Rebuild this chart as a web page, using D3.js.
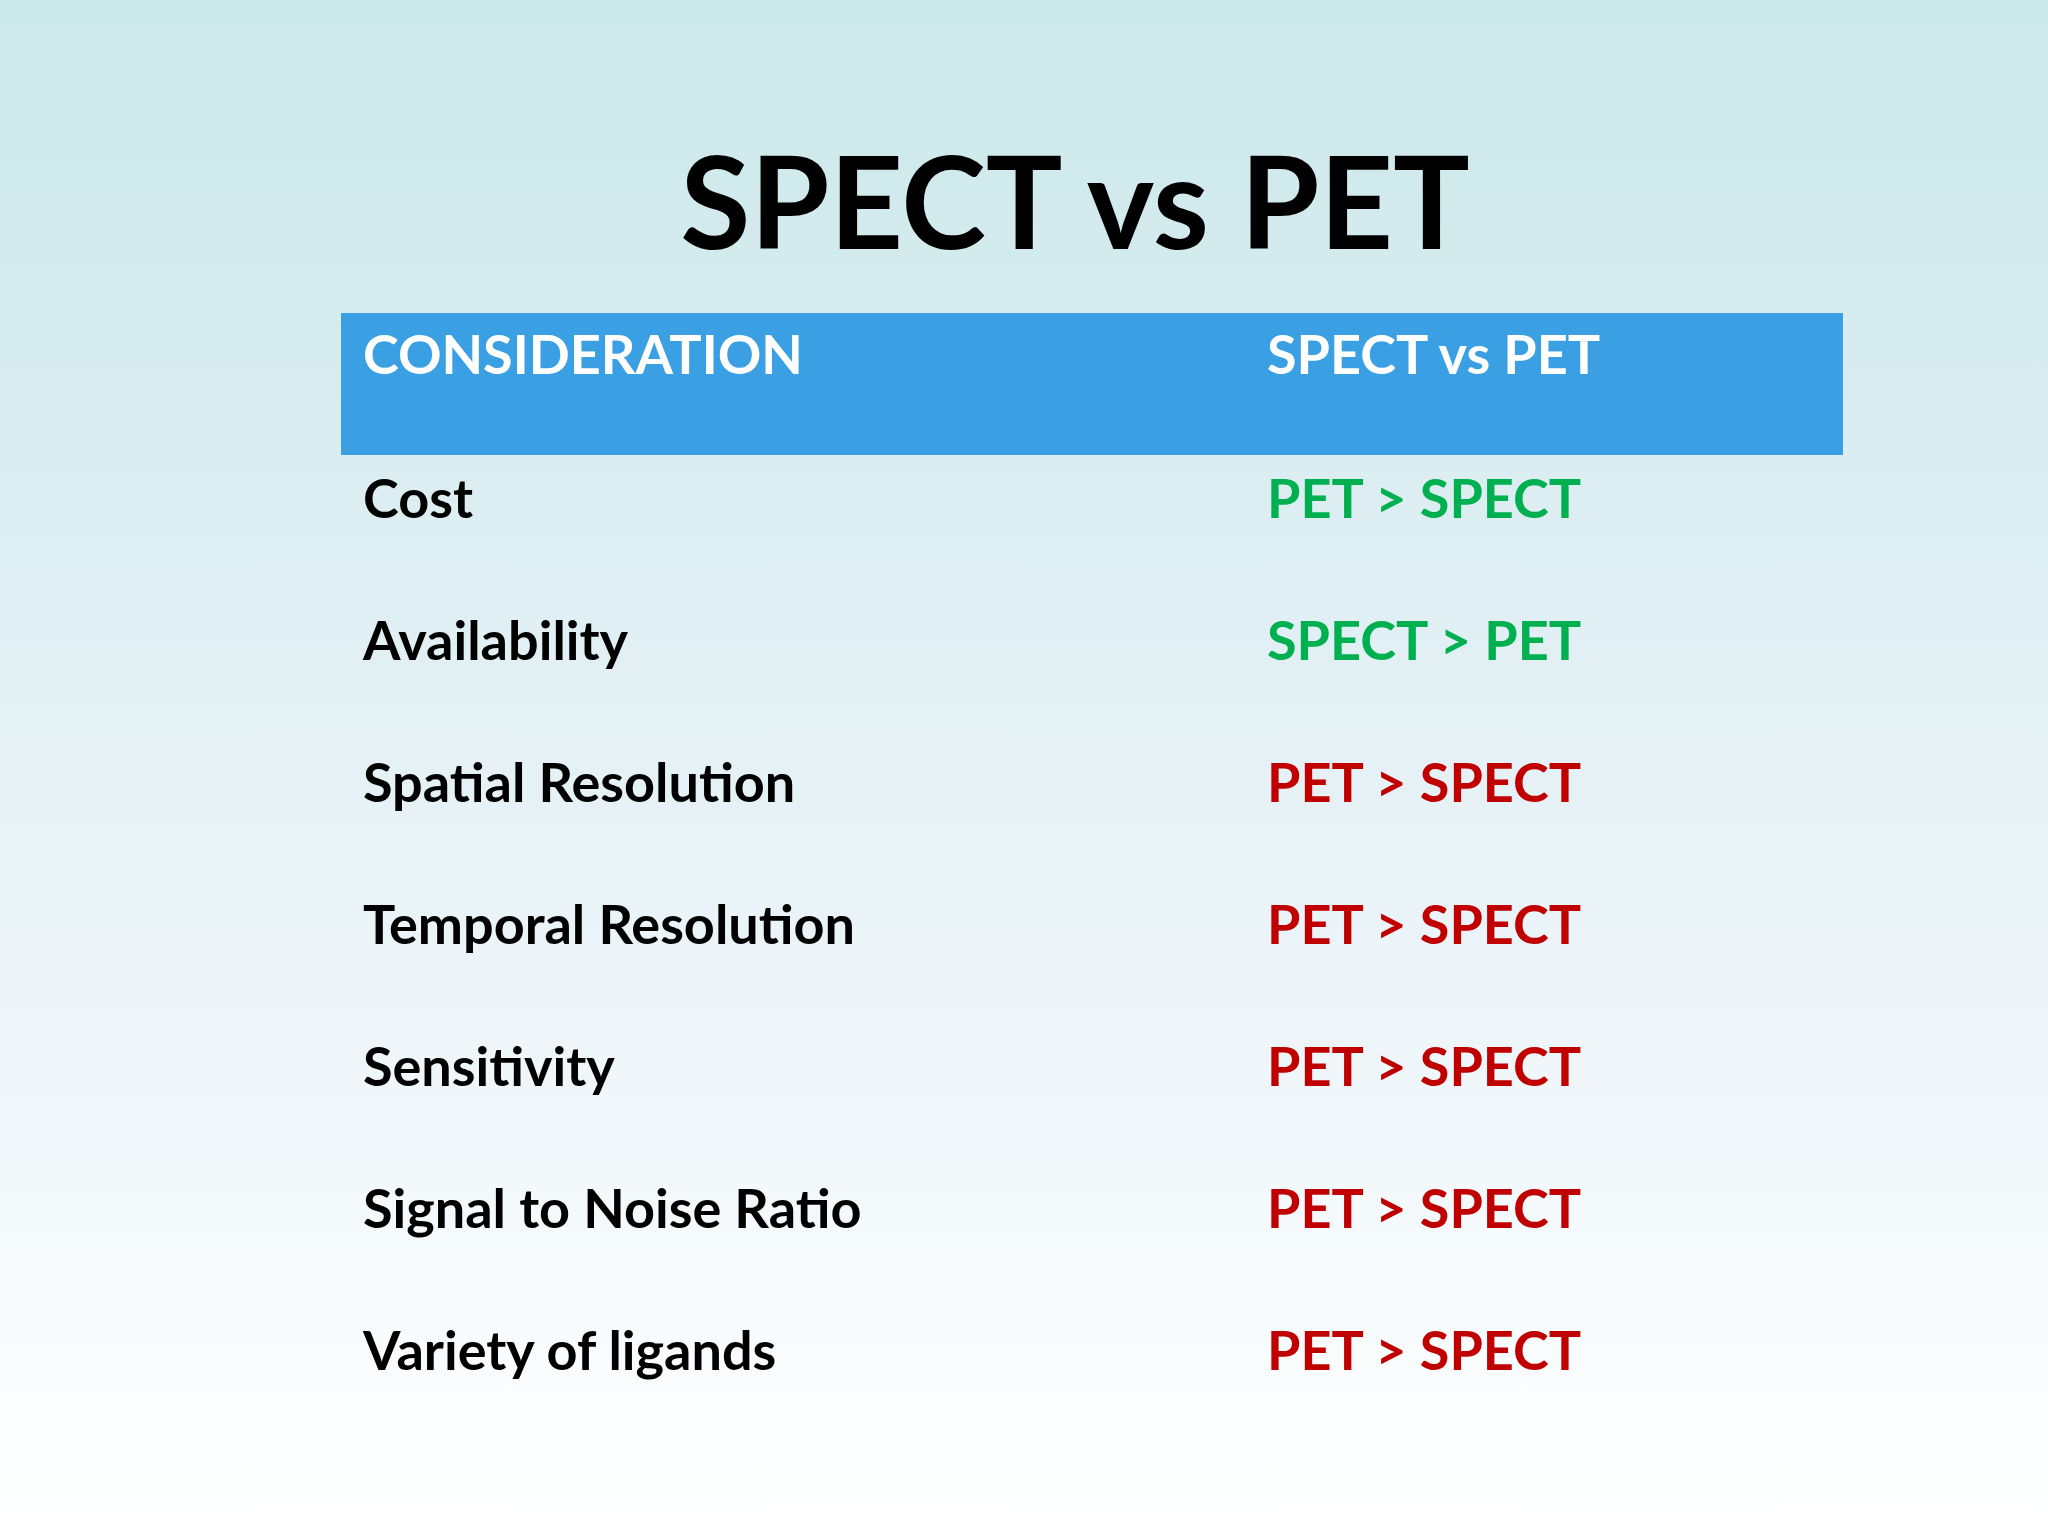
<!DOCTYPE html>
<html><head><meta charset="utf-8">
<script src="https://cdn.jsdelivr.net/npm/d3@7"></script>
<style>html,body{margin:0;padding:0;}</style>
</head><body>
<script>
const title = "SPECT vs PET";
const headers = ["CONSIDERATION", "SPECT vs PET"];
const considerations = ["Cost","Availability","Spatial Resolution","Temporal Resolution","Sensitivity","Signal to Noise Ratio","Variety of ligands"];
const comparisons = ["PET > SPECT","SPECT > PET","PET > SPECT","PET > SPECT","PET > SPECT","PET > SPECT","PET > SPECT"];
const favourable = [true,true,false,false,false,false,false];

const W=2048,H=1536;
const svg=d3.select("body").append("svg").attr("width",W).attr("height",H);
const defs=svg.append("defs");
const g=defs.append("linearGradient").attr("id","bg").attr("x1",0).attr("y1",0).attr("x2",0).attr("y2",1);
g.append("stop").attr("offset","0%").attr("stop-color","#cbe8ea");
g.append("stop").attr("offset","55%").attr("stop-color","#e8f2f7");
g.append("stop").attr("offset","100%").attr("stop-color","#ffffff");
svg.append("rect").attr("width",W).attr("height",H).attr("fill","url(#bg)");

const font="Lato, 'Noto Sans', sans-serif";
svg.append("text").attr("x",1075).attr("y",249).attr("text-anchor","middle")
  .attr("font-family",font).attr("font-weight",700).attr("font-size",128).attr("fill","#000").text(title);

const x0=341,x1=1843;
const colX=[363,1267];
svg.append("rect").attr("x",x0).attr("y",313).attr("width",x1-x0).attr("height",142).attr("fill","#3a9fe3");
headers.forEach((h,i)=>svg.append("text").attr("x",colX[i]).attr("y",374).attr("font-family",font)
  .attr("font-weight",700).attr("font-size",54).attr("fill","#fff").text(h));

const y=d3.scaleBand().domain(considerations).range([455,455+142*7]);
const rows=svg.append("g").selectAll("g").data(considerations).join("g")
  .attr("transform",d=>`translate(0,${y(d)})`);
rows.append("text").attr("x",colX[0]).attr("y",63).attr("font-family",font).attr("font-weight",700)
  .attr("font-size",54).attr("fill","#000").text(d=>d);
rows.append("text").attr("x",colX[1]).attr("y",63).attr("font-family",font).attr("font-weight",700)
  .attr("font-size",54).attr("fill",(d,i)=>favourable[i]?"#00b050":"#c00000").text((d,i)=>comparisons[i]);
</script>
</body></html>
